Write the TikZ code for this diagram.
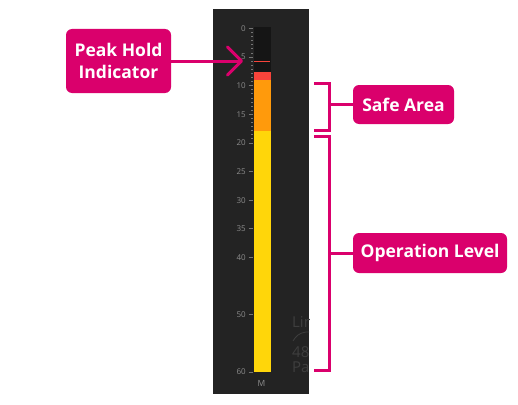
\documentclass[tikz,border=0pt]{standalone}
\usepackage{fontspec}
\setmainfont{Open Sans}
\usetikzlibrary{arrows.meta}
\definecolor{mag}{HTML}{DA006C}
\definecolor{panel}{HTML}{232323}
\definecolor{barbg}{HTML}{151515}
\definecolor{mred}{HTML}{F7443B}
\definecolor{morange}{HTML}{FF9A0C}
\definecolor{myellow}{HTML}{FFD60A}
\definecolor{scalegrey}{HTML}{8C8C8C}
\definecolor{ghost}{HTML}{3E3E3E}
\tikzset{
  callout/.style={fill=mag, text=white, rounded corners=6pt, inner sep=0pt, align=center,
    font=\fontsize{17.5}{22}\selectfont\bfseries},
  magline/.style={draw=mag, line width=3pt},
  scalelab/.style={anchor=east, inner sep=0pt, text=scalegrey, font=\fontsize{8}{9}\selectfont},
  tickmark/.style={draw=scalegrey!120, line width=0.9pt},
  ghosttext/.style={anchor=base west, inner sep=0pt, text=ghost, font=\fontsize{15}{16}\selectfont}
}
\begin{document}
\begin{tikzpicture}[x=1pt,y=-1pt]
\useasboundingbox (0,0) rectangle (518,404);
\fill[white] (0,0) rectangle (518,404);
% panel
\fill[panel] (213,9) rectangle (309,394);
% ghost text behind
\begin{scope}
\clip (213,9) rectangle (309,394);
\node[ghosttext] (g1) at (292,327) {Lin};
\node[ghosttext] (g2) at (292,357) {48};
\node[ghosttext] (g3) at (292,372) {Pa};
\draw[ghost, line width=0.8pt] (293,341) .. controls (296,336) and (299,333) .. (306,332) -- (312,332);
\end{scope}
% meter bar
\fill[barbg] (253.5,27) rectangle (270.5,72);
\fill[mred] (253.5,72) rectangle (270.5,80.3);
\fill[morange] (253.5,80.3) rectangle (270.5,131);
\fill[myellow] (253.5,131) rectangle (270.5,372);
\draw[mred, line width=1pt] (254,61) -- (270,61);
% scale labels and major ticks
\foreach \d in {0,5,10,15,20,25,30,35,40,50,60}{
  \node[scalelab] (l\d) at (246,{28.5+5.725*\d}) {\d};
  \draw[tickmark] (248.7,{28.5+5.725*\d}) -- (253.3,{28.5+5.725*\d});
}
% minor ticks
\foreach \m in {0,5,10,15}{
  \foreach \k in {1,...,6}{
    \draw[tickmark] (251.3,{28.5+5.725*(\m+\k*5/7)}) -- (253.3,{28.5+5.725*(\m+\k*5/7)});
  }
}
\node[inner sep=0pt, text=scalegrey, font=\fontsize{8.5}{9}\selectfont] (mlab) at (261.5,383) {M};
% callouts
\node[callout, minimum width=105pt, minimum height=64pt] (peak) at (118.5,61) {Peak Hold\\Indicator};
\node[callout, minimum width=101pt, minimum height=39pt] (safe) at (403.5,104.5) {Safe Area};
\node[callout, minimum width=154pt, minimum height=40pt] (oper) at (430,253) {Operation Level};
% arrow
\coordinate (peaktip) at (243,61);
\draw[magline, -{Straight Barb[length=14pt,width=28pt,line width=3pt,round]}] (peak.east) -- (peaktip);
% safe bracket
\coordinate (s1) at (314,83);
\coordinate (s2) at (329,83);
\coordinate (s3) at (329,130);
\coordinate (s4) at (314,130);
\coordinate (sm) at (329,104.5);
\draw[magline] (s1) -- (s2) -- (s3) -- (s4);
\draw[magline] (sm) -- (safe.west);
% operation bracket
\coordinate (o1) at (314,136);
\coordinate (o2) at (329,136);
\coordinate (o3) at (329,370);
\coordinate (o4) at (314,370);
\coordinate (om) at (329,253);
\draw[magline] (o1) -- (o2) -- (o3) -- (o4);
\draw[magline] (om) -- (oper.west);
\end{tikzpicture}
\end{document}
